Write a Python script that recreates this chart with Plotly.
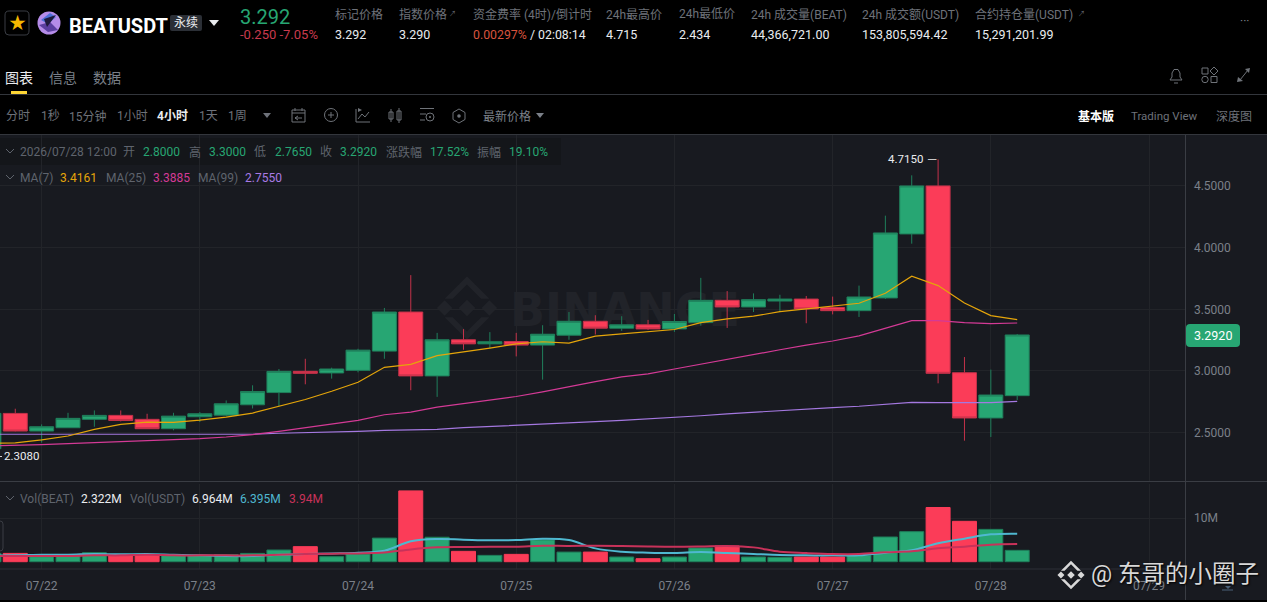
import pandas as pd
import plotly.graph_objects as go

W, H = 1267, 602
DATES = pd.date_range("2026-07-21 16:00", periods=40, freq="4h")
OPEN = [2.37, 2.656, 2.513, 2.540, 2.608, 2.640, 2.608, 2.532, 2.629, 2.642, 2.726, 2.825, 2.997, 2.984, 3.005, 3.161, 3.478,
        2.960, 3.253, 3.220, 3.239, 3.210, 3.290, 3.403, 3.347, 3.374, 3.341, 3.392, 3.573, 3.519, 3.567, 3.583,
        3.514, 3.489, 3.592, 4.111, 4.500, 2.986, 2.619, 2.800]
CLOSE = [2.656, 2.513, 2.548, 2.616, 2.640, 2.599, 2.532, 2.634, 2.653, 2.734, 2.833, 2.997, 2.981, 3.016, 3.169, 3.478, 2.960,
         3.253, 3.220, 3.237, 3.210, 3.298, 3.403, 3.347, 3.374, 3.341, 3.401, 3.573, 3.519, 3.578, 3.583, 3.503,
         3.489, 3.600, 4.119, 4.500, 2.981, 2.619, 2.805, 3.292]
HIGH = [2.68, 2.694, 2.567, 2.661, 2.68, 2.68, 2.653, 2.661, 2.667, 2.761, 2.884, 3.016, 3.099, 3.027, 3.18, 3.511, 3.777,
        3.309, 3.339, 3.315, 3.309, 3.371, 3.478, 3.452, 3.444, 3.414, 3.462, 3.755, 3.648, 3.629, 3.618, 3.608,
        3.603, 3.692, 4.259, 4.586, 4.715, 3.113, 3.011, 3.300]
LOW = [2.308, 2.51, 2.419, 2.538, 2.548, 2.591, 2.532, 2.519, 2.586, 2.634, 2.696, 2.715, 2.892, 2.938, 2.989, 3.099, 2.844,
       2.790, 3.172, 3.183, 3.118, 2.930, 3.253, 3.296, 3.325, 3.333, 3.317, 3.368, 3.349, 3.478, 3.478, 3.387,
       3.459, 3.438, 3.584, 4.032, 2.900, 2.435, 2.465, 2.765]
MA7 = [2.414, 2.417, 2.441, 2.473, 2.527, 2.567, 2.586, 2.583, 2.602, 2.626, 2.659, 2.712, 2.769, 2.836, 2.909, 3.030, 3.054,
       3.124, 3.153, 3.185, 3.220, 3.237, 3.226, 3.282, 3.301, 3.317, 3.336, 3.392, 3.422, 3.444, 3.481, 3.503,
       3.524, 3.549, 3.630, 3.768, 3.692, 3.551, 3.449, 3.416]
MA25 = [2.392, 2.395, 2.403, 2.411, 2.419, 2.427, 2.433, 2.441, 2.452, 2.465, 2.484, 2.511, 2.540, 2.567, 2.599, 2.645, 2.667,
        2.707, 2.734, 2.761, 2.793, 2.831, 2.874, 2.914, 2.952, 2.976, 3.016, 3.056, 3.094, 3.132, 3.172, 3.210,
        3.243, 3.284, 3.349, 3.408, 3.408, 3.392, 3.384, 3.389]
MA99 = [2.487, 2.487, 2.484, 2.481, 2.481, 2.481, 2.481, 2.481, 2.481, 2.484, 2.487, 2.495, 2.500, 2.503, 2.511, 2.519, 2.524,
        2.527, 2.540, 2.551, 2.559, 2.567, 2.578, 2.589, 2.599, 2.610, 2.624, 2.637, 2.653, 2.667, 2.680, 2.694,
        2.703, 2.714, 2.727, 2.746, 2.743, 2.741, 2.743, 2.754]
VOL = [1.9, 1.9, 1.15, 1.6, 2.06, 1.45, 1.6, 1.45, 1.45, 1.6, 1.9, 2.67, 3.44, 1.15, 1.76, 5.4, 16.2,
       5.6, 2.37, 1.45, 1.68, 5.0, 2.2, 2.2, 1.07, 0.69, 1.07, 3.13, 3.6, 1.07, 1.0, 1.07,
       1.07, 1.45, 5.65, 6.87, 12.4, 9.24, 7.4, 2.6]
VOL_MA5 = [1.45, 1.45, 1.6, 1.6, 1.76, 1.68, 1.76, 1.6, 1.45, 1.3, 1.3, 1.6, 1.76, 1.9, 2.06, 2.5, 4.66,
           5.2, 5.04, 4.89, 4.96, 5.27, 4.96, 3.05, 2.29, 2.06, 1.98, 2.2, 2.0, 1.76, 1.53, 1.45,
           1.45, 1.45, 2.06, 2.6, 4.2, 5.27, 6.26, 6.41]
VOL_MA10 = [1.3, 1.3, 1.3, 1.3, 1.45, 1.45, 1.6, 1.45, 1.45, 1.45, 1.45, 1.6, 1.76, 1.83, 1.9, 2.1, 2.8,
            3.28, 3.36, 3.44, 3.44, 3.66, 3.6, 3.66, 3.6, 3.5, 3.44, 3.5, 3.6, 3.28, 2.29, 1.98,
            1.76, 1.76, 2.14, 2.37, 3.05, 3.44, 3.9, 4.05]
PRICE_TICKS = [2.5, 3.0, 3.5, 4.0, 4.5]

GREEN, RED = "#27A673", "#FB3C58"
GREEN_EDGE, RED_EDGE = "#1F7F5B", "#C4324A"
GRAY, DIM, LIGHT = "#7B8089", "#5F646D", "#EAECEF"
FONT = "Roboto, 'Noto Sans CJK SC', sans-serif"

def px(x): return x / W
def py(y): return 1 - y / H

annots, shapes = [], []

def T(x, y, text, size=12, color=GRAY, anchor="left", bold=False, **kw):
    t = f"<b>{text}</b>" if bold else text
    annots.append(dict(x=px(x), y=py(y), xref="paper", yref="paper", text=t, showarrow=False,
                       xanchor=anchor, yanchor="middle", borderpad=0, xshift=-1 if anchor == "left" else 0,
                       font=dict(family=FONT, size=size, color=color, **kw)))

def R(x0, y0, x1, y1, fill=None, line=None, lw=1, layer="above"):
    shapes.append(dict(type="rect", xref="paper", yref="paper", x0=px(x0), x1=px(x1), y0=py(y0), y1=py(y1),
                       fillcolor=fill or "rgba(0,0,0,0)", line=dict(color=line or "rgba(0,0,0,0)", width=lw if line else 0),
                       layer=layer))

def L(x0, y0, x1, y1, color="#3A3D44", lw=1, layer="above"):
    shapes.append(dict(type="line", xref="paper", yref="paper", x0=px(x0), x1=px(x1), y0=py(y0), y1=py(y1),
                       line=dict(color=color, width=lw), layer=layer))

def P(points, fill=None, line=None, lw=1, close=True, layer="above"):
    d = "M " + " L ".join(f"{px(a):.5f},{py(b):.5f}" for a, b in points) + (" Z" if close else "")
    shapes.append(dict(type="path", xref="paper", yref="paper", path=d,
                       fillcolor=fill or "rgba(0,0,0,0)", line=dict(color=line or "rgba(0,0,0,0)", width=lw if line else 0),
                       layer=layer))

def O(cx, cy, r, fill=None, line=None, lw=1):
    shapes.append(dict(type="circle", xref="paper", yref="paper", x0=px(cx - r), x1=px(cx + r), y0=py(cy - r), y1=py(cy + r),
                       fillcolor=fill or "rgba(0,0,0,0)", line=dict(color=line or "rgba(0,0,0,0)", width=lw if line else 0)))

def rounded(x0, y0, x1, y1, r, fill=None, line=None, lw=1):
    fx, fy = lambda v: f"{px(v):.5f}", lambda v: f"{py(v):.5f}"
    d = (f"M {fx(x0+r)},{fy(y0)} L {fx(x1-r)},{fy(y0)} Q {fx(x1)},{fy(y0)} {fx(x1)},{fy(y0+r)} "
         f"L {fx(x1)},{fy(y1-r)} Q {fx(x1)},{fy(y1)} {fx(x1-r)},{fy(y1)} L {fx(x0+r)},{fy(y1)} "
         f"Q {fx(x0)},{fy(y1)} {fx(x0)},{fy(y1-r)} L {fx(x0)},{fy(y0+r)} Q {fx(x0)},{fy(y0)} {fx(x0+r)},{fy(y0)} Z")
    shapes.append(dict(type="path", xref="paper", yref="paper", path=d, fillcolor=fill or "rgba(0,0,0,0)",
                       line=dict(color=line or "rgba(0,0,0,0)", width=lw if line else 0)))

def diamond(cx, cy, r, fill, layer="above"):
    P([(cx, cy - r), (cx + r, cy), (cx, cy + r), (cx - r, cy)], fill=fill, layer=layer)

def chevron(cx, cy, r, t, fill, up=True, layer="above"):
    s = -1 if up else 1
    P([(cx - r, cy), (cx, cy + s * r), (cx + r, cy), (cx + r - t, cy), (cx, cy + s * (r - t)), (cx - r + t, cy)], fill=fill, layer=layer)

def binance(cx, cy, r, fill, layer="above"):
    diamond(cx, cy, r * 0.27, fill, layer)
    diamond(cx - r * 0.72, cy, r * 0.25, fill, layer)
    diamond(cx + r * 0.72, cy, r * 0.25, fill, layer)
    chevron(cx, cy - r * 0.30, r * 0.72, r * 0.26, fill, True, layer)
    chevron(cx, cy + r * 0.30, r * 0.72, r * 0.26, fill, False, layer)

# ---------- panel backgrounds ----------
R(0, 135, W, 600, fill="#181A20", layer="below")
R(0, 138, 561, 165, fill="#14161A", layer="below")
binance(467, 308, 31, "#212329", layer="below")
shapes.append(dict(type="rect", xref="paper", yref="paper", x0=px(510), x1=px(740), y0=py(325), y1=py(288),
                   fillcolor="rgba(0,0,0,0)", line=dict(width=0), layer="below",
                   label=dict(text="<b>BINANCE</b>", textposition="middle center",
                              font=dict(family="DejaVu Sans, sans-serif", size=46, color="#212329"))))

# ---------- header ----------
rounded(5, 11, 29, 35, 4, line="#3A3D44")
T(17, 23, "★", 17, "#F5B800", "center")
O(49, 23, 11.5, fill="#B58CE8")
P([(41, 20), (50, 13), (56, 17), (48, 24)], fill="#4C6FD8")
P([(39, 25), (50, 22), (58, 30), (48, 32)], fill="#5B3FA0")
P([(44, 19), (56, 15), (47, 27)], fill="#1E1A3C")
T(69, 26, "BEATUSDT", 20, "#FFFFFF", bold=True)
rounded(170, 15, 202, 31, 2, fill="#2B2F36")
T(186, 23, "永续", 12, "#EAECEF", "center")
P([(209, 20), (219, 20), (214, 26)], fill="#EAECEF")
T(240, 17, "3.292", 20, GREEN)
T(240, 35, "-0.250 -7.05%", 13, "#C93A4E")
for x, label in [(335, "标记价格"), (399, "指数价格"), (473, "资金费率 (4时)/倒计时"), (606, "24h最高价"),
                 (679, "24h最低价"), (751, "24h 成交量(BEAT)"), (862, "24h 成交额(USDT)"), (975, "合约持仓量(USDT)")]:
    T(x, 14, label, 12, "#6E727A")
T(449, 14, "↗", 7, "#6E727A")
T(1078, 14, "↗", 7, "#6E727A")
for x, val in [(335, "3.292"), (399, "3.290"), (606, "4.715"), (679, "2.434"), (751, "44,366,721.00"),
               (862, "153,805,594.42"), (975, "15,291,201.99")]:
    T(x, 35, val, 12.5, LIGHT)
T(473, 35, "0.00297%", 12.3, "#D8533E")
T(530, 35, "/ 02:08:14", 12.3, LIGHT)
T(1244, 21, "···", 12, "#7B8089", "center")

# tabs
T(5, 78, "图表", 14, "#EAECEF")
T(49, 78, "信息", 14, "#7B8089")
T(93, 78, "数据", 14, "#7B8089")
R(11, 91, 27, 94, fill="#FCD535")
L(0, 94.5, W, 94.5, "#33363C")
# top-right icons
ic = "#6F7379"
P([(1170, 80), (1172, 77), (1172, 73), (1174, 69.5), (1178, 69.5), (1180, 73), (1180, 77), (1182, 80)], line=ic)
L(1174, 83, 1178, 83, ic)
R(1202, 68, 1208, 74, line=ic)
P([(1214, 67), (1218, 71), (1214, 75), (1210, 71)], line=ic)
O(1205, 79.5, 3.2, line=ic)
R(1211, 76.5, 1217, 82.5, line=ic)
L(1240, 80, 1248, 70, ic)
P([(1245, 69), (1250, 68), (1249, 73)], fill=ic)
P([(1238, 77), (1243, 81), (1237, 82)], fill=ic)

# toolbar
for x, label in [(6, "分时"), (41, "1秒"), (69, "15分钟"), (117, "1小时"), (199, "1天"), (228, "1周")]:
    T(x, 116, label, 12, "#6E727A")
T(157, 116, "4小时", 12, "#EAECEF", bold=True)
P([(263, 113), (271, 113), (267, 118)], fill="#6E727A")
R(292, 110, 305, 122, line=ic); L(292, 113, 305, 113, ic); L(295, 108, 295, 111, ic); L(302, 108, 302, 111, ic)
L(295, 118, 302, 118, ic); P([(298, 116), (295, 118), (298, 120)], line=ic, close=False)
O(331, 115, 6.5, line=ic); L(328, 115, 334, 115, ic); L(331, 112, 331, 118, ic)
P([(356, 109), (356, 122), (370, 122)], line=ic, close=False)
P([(358, 119), (362, 114), (365, 117), (369, 112)], line=ic, close=False)
P([(358, 108), (362, 110), (358, 112)], fill=ic)
R(389, 112, 393, 119, line=ic); L(391, 109, 391, 122, ic)
R(397, 111, 401, 120, line=ic); L(399, 108, 399, 123, ic)
L(420, 108.5, 434, 108.5, ic); L(420, 114, 426, 114, ic); L(420, 120, 425, 120, ic)
O(430, 117, 4, line=ic); O(430, 117, 1, fill=ic)
P([(459, 109), (465, 112.5), (465, 119.5), (459, 123), (453, 119.5), (453, 112.5)], line=ic)
O(459, 116, 1.8, fill=ic)
T(483, 116, "最新价格", 12, "#7B8089")
P([(536, 113), (544, 113), (540, 118)], fill="#7B8089")
T(1078, 116, "基本版", 12, "#FFFFFF", bold=True)
T(1131, 116, "Trading View", 11.5, "#6E727A")
T(1216, 116, "深度图", 12, "#6E727A")
L(0, 134.5, W, 134.5, "#33363C")

# ---------- chart info rows ----------
def chev(x, y):
    P([(x - 4, y - 2), (x, y + 2), (x + 4, y - 2)], line="#5F646D", close=False)

chev(10, 151)
T(20, 152, "2026/07/28 12:00", 12, DIM)
for x, lab, xv, val in [(123, "开", 143, "2.8000"), (189, "高", 209, "3.3000"), (254, "低", 275, "2.7650"),
                        (320, "收", 340, "3.2920"), (386, "涨跌幅", 430, "17.52%"), (477, "振幅", 509, "19.10%")]:
    T(x, 152, lab, 12, DIM)
    T(xv, 152, val, 12, GREEN)
chev(10, 177)
T(20, 178, "MA(7)", 12, DIM); T(60, 178, "3.4161", 12, "#E5A50A")
T(106, 178, "MA(25)", 12, DIM); T(153, 178, "3.3885", 12, "#D43A96")
T(198, 178, "MA(99)", 12, DIM); T(245, 178, "2.7550", 12, "#A97AE5")
chev(10, 498)
T(20, 499, "Vol(BEAT)", 12, DIM); T(81, 499, "2.322M", 12, LIGHT)
T(130, 499, "Vol(USDT)", 12, DIM); T(192, 499, "6.964M", 12, LIGHT)
T(240, 499, "6.395M", 12, "#4FB8D0"); T(289, 499, "3.94M", 12, "#C8325A")
rounded(-6, 521, 3, 551, 3, line="#3A3D44")

# ---------- separators and labels ----------
L(0, 481.5, 1267, 481.5, "#3A3D44")
L(1185.5, 135, 1185.5, 600, "#3A3D44")
L(0, 569, 1185.5, 569, "#2C2F36")

# last-price tag
rounded(1186, 324, 1240, 347, 4, fill=GREEN)
T(1213, 335.5, f"{CLOSE[-1]:.4f}", 12.5, "#FFFFFF", "center")
# left low label
L(0, 456.5, 2, 456.5, "#D0D0D0")
T(4, 456, f"{min(LOW):.4f}", 11.5, "#EAECEF")
# high marker
i_high = HIGH.index(max(HIGH))
annots.append(dict(x=DATES[i_high], y=HIGH[i_high], xref="x", yref="y", text=f"{HIGH[i_high]:.4f}", showarrow=False,
                   xanchor="right", yanchor="middle", xshift=-14, borderpad=0,
                   font=dict(family=FONT, size=11.5, color="#EAECEF")))
annots.append(dict(x=DATES[i_high], y=HIGH[i_high], xref="x", yref="y", text="—", showarrow=False,
                   xanchor="right", yanchor="middle", xshift=0, borderpad=0,
                   font=dict(family=FONT, size=13, color="#C8C8C8")))

# bottom-right watermark
binance(1071, 575, 14, "#D8D8D8")
T(1091, 574, "@ 东哥的小圈子", 23.5, "#D8D8D8", shadow="1px 1px 2px #000000")
L(1222, 590, 1233, 590, "#4A6078")
P([(1225, 586), (1231, 586), (1228, 589)], fill="#4A6078")

# ---------- traces ----------
fig = go.Figure()
fig.add_trace(go.Candlestick(
    x=DATES, open=OPEN, high=HIGH, low=LOW, close=CLOSE, xaxis="x", yaxis="y",
    increasing=dict(fillcolor=GREEN, line=dict(color=GREEN_EDGE, width=1)),
    decreasing=dict(fillcolor=RED, line=dict(color=RED_EDGE, width=1)),
    whiskerwidth=0, showlegend=False, hoverinfo="skip"))
for vals, col in [(MA99, "#A478E0"), (MA25, "#D43A96"), (MA7, "#E5A50A")]:
    fig.add_trace(go.Scatter(x=DATES, y=vals, mode="lines", line=dict(color=col, width=1.2),
                             xaxis="x", yaxis="y", showlegend=False, hoverinfo="skip"))
bar_colors = [GREEN if c >= o else RED for o, c in zip(OPEN, CLOSE)]
edge_colors = [GREEN_EDGE if c >= o else RED for o, c in zip(OPEN, CLOSE)]
fig.add_trace(go.Bar(x=DATES, y=VOL, marker=dict(color=bar_colors, line=dict(color=edge_colors, width=1)),
                     xaxis="x2", yaxis="y2", showlegend=False, hoverinfo="skip"))
fig.add_trace(go.Scatter(x=DATES, y=VOL_MA5, mode="lines", line=dict(color="#4FB8D0", width=2, shape="spline"),
                         xaxis="x2", yaxis="y2", showlegend=False, hoverinfo="skip"))
fig.add_trace(go.Scatter(x=DATES, y=VOL_MA10, mode="lines", line=dict(color="#C8325A", width=2, shape="spline"),
                         xaxis="x2", yaxis="y2", showlegend=False, hoverinfo="skip"))

GRID = "#222429"
x_range = ["2026-07-21 17:41", "2026-07-29 05:32"]
x_common = dict(type="date", range=x_range, tick0="2026-07-22", dtick=86400000, showgrid=True, gridcolor=GRID,
                gridwidth=1, zeroline=False, showline=False, fixedrange=True, rangeslider=dict(visible=False),
                domain=[0, 1185.5 / W])

fig.update_layout(
    width=W, height=H, margin=dict(l=0, r=0, t=0, b=0), autosize=False,
    paper_bgcolor="#000000", plot_bgcolor="rgba(0,0,0,0)", showlegend=False,
    font=dict(family=FONT, color=GRAY, size=12),
    boxmode="overlay", boxgap=0.09, boxgroupgap=0, bargap=0.09,
    annotations=annots, shapes=shapes,
    xaxis=dict(anchor="y", showticklabels=False, **x_common),
    xaxis2=dict(anchor="y2", showticklabels=True, tickformat="%m/%d", ticks="outside", ticklen=6,
                tickcolor="rgba(0,0,0,0)", tickfont=dict(size=12, color="#7B8089"), **x_common),
    yaxis=dict(domain=[py(482), py(135)], range=[2.1, 4.913], side="right", anchor="x", tickvals=PRICE_TICKS,
               ticktext=[f"{v:.4f}" for v in PRICE_TICKS], showgrid=True, gridcolor=GRID, zeroline=False,
               ticks="outside", ticklen=5, tickcolor="rgba(0,0,0,0)", tickfont=dict(size=12, color="#7B8089"),
               fixedrange=True),
    yaxis2=dict(domain=[py(569), py(484)], range=[-1.67, 17.78], side="right", anchor="x2", tickvals=[10],
                ticktext=["10M"], showgrid=True, gridcolor=GRID, zeroline=False,
                ticks="outside", ticklen=5, tickcolor="rgba(0,0,0,0)", tickfont=dict(size=12, color="#7B8089"),
                fixedrange=True),
)

fig.write_html("out.html", config=dict(displayModeBar=False),
               post_script="document.body.style.margin='0';document.body.style.background='#000';")
